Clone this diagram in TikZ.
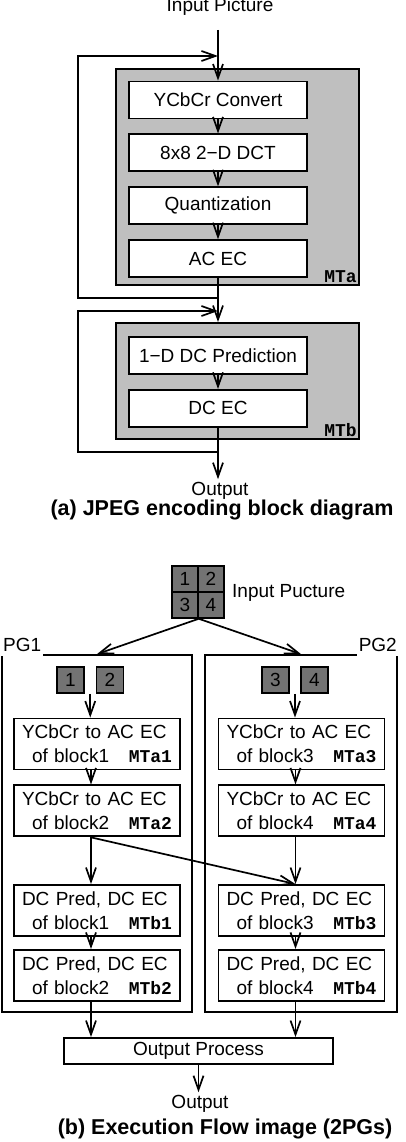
\documentclass[tikz,border=0pt]{standalone}
\usepackage{fontspec}
\setmainfont{Liberation Sans}
\setmonofont{Liberation Mono}
\usetikzlibrary{positioning,arrows.meta,calc}

\newcommand{\mtname}[1]{{\fontsize{18}{18}\selectfont\ttfamily\bfseries #1}}

\tikzset{
  txt/.style={font=\fontsize{19}{23}\selectfont, inner sep=3pt},
  captxt/.style={font=\fontsize{21.5}{24}\selectfont\bfseries, inner sep=1pt},
  blk/.style={draw, fill=white, line width=1.9pt, minimum width=178pt, minimum height=37pt,
    inner sep=0pt, font=\fontsize{19}{23}\selectfont},
  pblk/.style={draw, fill=white, line width=1.9pt, minimum height=51pt, text width=150pt,
    inner xsep=8pt, inner ysep=0pt, align=left, font=\fontsize{19}{24}\selectfont},
  mtbox/.style={draw, fill=black!25, line width=1.9pt, inner sep=0pt},
  mtlbl/.style={anchor=south east, inner sep=3pt},
  pg/.style={draw, line width=1.8pt, inner sep=0pt, minimum height=357pt},
  pglbl/.style={fill=white, inner xsep=2pt, inner ysep=5pt, font=\fontsize{19}{23}\selectfont},
  sq/.style={draw, fill=black!55, line width=1.5pt, minimum width=26pt, minimum height=26pt,
    inner sep=0pt, font=\fontsize{19}{23}\selectfont},
  flow/.style={line width=1.7pt, -{Straight Barb[length=14pt,width=10pt]}},
  wire/.style={line width=1.7pt}
}

\begin{document}
\begin{tikzpicture}[x=1pt, y=-1pt]
  \useasboundingbox (0,0) rectangle (406,1142);

  % (a) JPEG encoding
  \node[mtbox, minimum width=243pt, minimum height=216pt] (mta) at (237.5,177) {};
  \node[mtlbl] (mtalbl) at (mta.south east) {\mtname{MTa}};
  \node[mtbox, minimum width=243pt, minimum height=116pt] (mtb) at (237.5,381) {};
  \node[mtlbl] (mtblbl) at (mtb.south east) {\mtname{MTb}};

  \node[blk] (ycc) at (218,100) {YCbCr Convert};
  \node[blk, below=14pt of ycc] (dct) {8x8 2−D DCT};
  \node[blk, below=14pt of dct] (quant) {Quantization};
  \node[blk, below=14pt of quant] (acec) {AC EC};
  \node[blk] (dcpred) at (218,355.5) {1−D DC Prediction};
  \node[blk, below=14pt of dcpred] (dcec) {DC EC};

  \node[txt] (intxt) at (220,7) {Input Picture};
  \coordinate (in) at (218,30);
  \coordinate (fba) at (78,56);
  \coordinate (outa) at (218,298);
  \coordinate (fbb) at (78,311);
  \coordinate (outb) at (218,452);
  \node[txt] (outtxta) at (220,491) {Output};
  \node[captxt] (capa) at (222,510) {(a) JPEG encoding block diagram};

  \draw[flow] (in) -- (ycc.north);
  \draw[flow] (ycc) -- (dct);
  \draw[flow] (dct) -- (quant);
  \draw[flow] (quant) -- (acec);
  \draw[wire] (acec.south) -- (outa);
  \draw[flow] (outa) -| (fba) -- (fba -| in);
  \draw[flow] (outa) -- (outa |- mtb.north);
  \draw[flow] (dcpred) -- (dcec);
  \draw[wire] (dcec.south) -- (outb);
  \draw[flow] (outb) -| (fbb) -- (fbb -| outa);
  \draw[flow] (outb) -- (outb |- outtxta.north);

  % (b) execution flow, 2 PGs
  \node[sq] (g1) at (185,579) {1};
  \node[sq] (g2) at (211,579) {2};
  \node[sq] (g3) at (185,605) {3};
  \node[sq] (g4) at (211,605) {4};
  \node[txt, anchor=west] (intxtb) at (229,593) {Input Pucture};

  \node[pg, minimum width=190pt] (pg1) at (97,833.5) {};
  \node[pg, minimum width=192pt] (pg2) at (301,833.5) {};
  \node[pglbl, anchor=base west] (pg1lbl) at (1,651) {PG1};
  \node[pglbl, anchor=base east] (pg2lbl) at (399,651) {PG2};

  \node[sq, minimum width=27pt] (b1) at (70.5,680) {1};
  \node[sq, minimum width=27pt] (b2) at (110,680) {2};
  \node[sq, minimum width=27pt] (b3) at (275.5,680) {3};
  \node[sq, minimum width=27pt] (b4) at (314.5,680) {4};

  \node[pblk] (mta1) at (97,744) {YCbCr to AC EC\\\hspace*{10pt}of block1\hfill\mtname{MTa1}};
  \node[pblk, below=14pt of mta1] (mta2) {YCbCr to AC EC\\\hspace*{10pt}of block2\hfill\mtname{MTa2}};
  \node[pblk] (mta3) at (301.5,744) {YCbCr to AC EC\\\hspace*{10pt}of block3\hfill\mtname{MTa3}};
  \node[pblk, below=14pt of mta3] (mta4) {YCbCr to AC EC\\\hspace*{10pt}of block4\hfill\mtname{MTa4}};
  \node[pblk] (mtb1) at (97,910.5) {DC Pred, DC EC\\\hspace*{10pt}of block1\hfill\mtname{MTb1}};
  \node[pblk, below=12pt of mtb1] (mtb2) {DC Pred, DC EC\\\hspace*{10pt}of block2\hfill\mtname{MTb2}};
  \node[pblk] (mtb3) at (301.5,910.5) {DC Pred, DC EC\\\hspace*{10pt}of block3\hfill\mtname{MTb3}};
  \node[pblk, below=12pt of mtb3] (mtb4) {DC Pred, DC EC\\\hspace*{10pt}of block4\hfill\mtname{MTb4}};

  \node[blk, minimum width=269pt, minimum height=26pt] (outp) at (198.5,1051) {Output Process};
  \node[txt] (outtxtb) at (200,1104) {Output};
  \node[captxt] (capb) at (225,1129) {(b) Execution Flow image (2PGs)};

  \coordinate (s12) at ($(b1.south east)!0.5!(b2.south west)$);
  \coordinate (s34) at ($(b3.south east)!0.5!(b4.south west)$);
  \coordinate (a1) at ([xshift=-6pt]mta1.south);
  \coordinate (a2) at ([xshift=-6pt]mta2.south);
  \coordinate (a3) at ([xshift=-6pt]mta3.south);
  \coordinate (a4) at ([xshift=-6pt]mta4.south);
  \coordinate (c1) at ([xshift=-6pt]mtb1.south);
  \coordinate (c2) at ([xshift=-6pt]mtb2.south);
  \coordinate (c3) at ([xshift=-6pt]mtb3.south);
  \coordinate (c4) at ([xshift=-6pt]mtb4.south);

  \draw[flow] (g3.south east) -- (pg1.north);
  \draw[flow] (g3.south east) -- (pg2.north);
  \draw[flow] (s12) -- (s12 |- mta1.north);
  \draw[flow] (s34) -- (s34 |- mta3.north);
  \draw[flow] (a1) -- (a1 |- mta2.north);
  \draw[flow] (a3) -- (a3 |- mta4.north);
  \draw[flow] (a2) -- (a2 |- mtb1.north);
  \draw[flow] (a2) -- (a4 |- mtb3.north);
  \draw[flow] (a4) -- (a4 |- mtb3.north);
  \draw[flow] (c1) -- (c1 |- mtb2.north);
  \draw[flow] (c3) -- (c3 |- mtb4.north);
  \draw[flow] (c2) -- (c2 |- outp.north);
  \draw[flow] (c4) -- (c4 |- outp.north);
  \draw[flow] (outp.south) -- (outp.south |- outtxtb.north);
\end{tikzpicture}
\end{document}
